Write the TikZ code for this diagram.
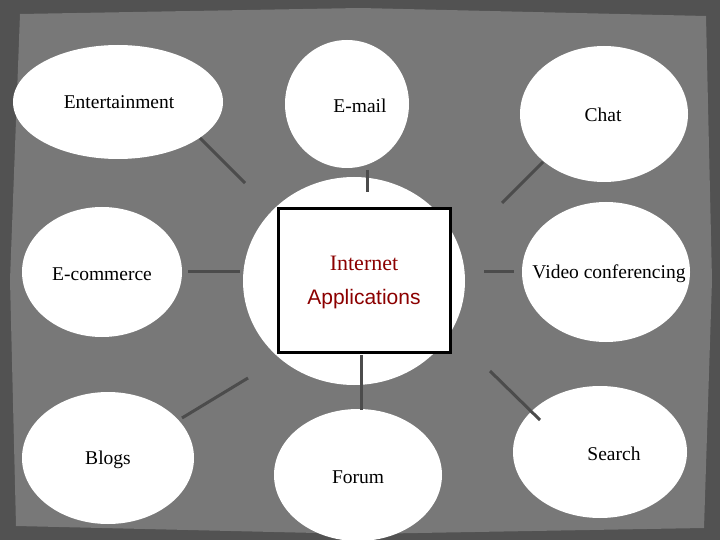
\documentclass[tikz,border=0pt]{standalone}
\usepackage{fontspec}
\setmainfont{Liberation Serif}
\begin{document}
\begin{tikzpicture}[x=1pt,y=-1pt,
  lab/.style={font=\fontsize{19.5}{23}\selectfont},
  conn/.style={draw=black!70,line width=3pt}]
\useasboundingbox (0,0) rectangle (720,540);
\fill[black!68] (0,0) rectangle (720,540);
\fill[black!53] (20,14) -- (360,8) -- (706,16) -- (712,280) -- (704,528) -- (360,534) -- (16,526) -- (10,280) -- cycle;
\fill[white] (118,102) ellipse [x radius=105,y radius=57];
\fill[white] (347,104) ellipse [x radius=62,y radius=64];
\fill[white] (604,114) ellipse [x radius=84,y radius=68];
\fill[white] (102,272) ellipse [x radius=80,y radius=65];
\fill[white] (354,281) ellipse [x radius=111,y radius=104];
\fill[white] (606,272) ellipse [x radius=84,y radius=70];
\fill[white] (108,458) ellipse [x radius=86,y radius=66];
\fill[white] (358,475) ellipse [x radius=84,y radius=66];
\fill[white] (600,452) ellipse [x radius=87,y radius=66];
\node[draw=black,line width=3pt,fill=white,minimum width=172pt,minimum height=143pt,inner sep=0pt] (box) at (364,280.5) {};
\node[lab] (ent) at (119,102) {Entertainment};
\node[lab] (mail) at (360,106) {E-mail};
\node[lab] (chat) at (603,115) {Chat};
\node[lab] (ecom) at (102,274) {E-commerce};
\node[lab,red!55!black,font=\fontsize{22}{26}\selectfont] (int) at (364,263) {Internet};
\node[lab,red!55!black,font=\fontsize{21}{25}\selectfont] (app) at (364,299) {\fontspec{Liberation Sans}Applications};
\node[lab] (video) at (609,274) {Video conferencing};
\node[lab] (blogs) at (108,460) {Blogs};
\node[lab] (forum) at (358,477) {Forum};
\node[lab] (search) at (614,454) {Search};
\coordinate (a1) at (200,138); \coordinate (a2) at (245,183);
\coordinate (b1) at (367,170); \coordinate (b2) at (367,192);
\coordinate (c1) at (543,162); \coordinate (c2) at (502,203);
\coordinate (d1) at (188,271); \coordinate (d2) at (240,271);
\coordinate (e1) at (484,271); \coordinate (e2) at (514,271);
\coordinate (f1) at (248,378); \coordinate (f2) at (182,418);
\coordinate (g1) at (361,355); \coordinate (g2) at (361,410);
\coordinate (h1) at (490,371); \coordinate (h2) at (540,420);
\foreach \p in {a,b,c,d,e,f,g,h} \draw[conn] (\p1) -- (\p2);
\end{tikzpicture}
\end{document}
